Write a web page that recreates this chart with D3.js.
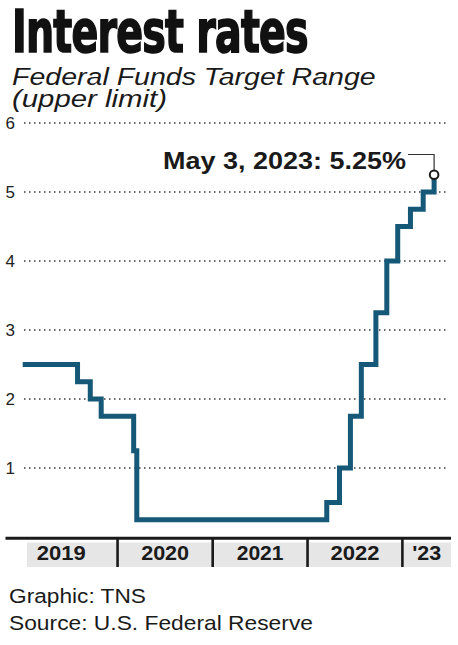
<!DOCTYPE html>
<html>
<head>
<meta charset="utf-8">
<script src="https://cdn.jsdelivr.net/npm/d3@7"></script>
<style>
  html, body { margin: 0; padding: 0; background: #fff; }
  svg { display: block; }
  text { font-family: "Liberation Sans", Arial, Helvetica, sans-serif; fill: #1a1a1a; }
</style>
</head>
<body>
<script>
// ---- data ----
const changeDates = ["2019-01-01","2019-07-31","2019-09-18","2019-10-30","2020-03-03","2020-03-15",
  "2022-03-16","2022-05-04","2022-06-15","2022-07-27","2022-09-21","2022-11-02","2022-12-14",
  "2023-02-01","2023-03-22","2023-05-03"];
const upperRates = [2.5, 2.25, 2.0, 1.75, 1.25, 0.25, 0.5, 1.0, 1.75, 2.5, 3.25, 4.0, 4.5, 4.75, 5.0, 5.25];
const yTicks = [1, 2, 3, 4, 5, 6];
const yearTickDates = ["2020-01-01","2021-01-01","2022-01-01","2023-01-01"];
const yearLabels = ["2019","2020","2021","2022","'23"];
const titleText = "Interest rates";
const subtitleLines = ["Federal Funds Target Range", "(upper limit)"];
const annotationText = "May 3, 2023: 5.25%";
const footerLines = ["Graphic: TNS", "Source: U.S. Federal Reserve"];

const W = 458, H = 645;
const parse = d3.timeParse("%Y-%m-%d");
const data = changeDates.map((d, i) => ({ date: parse(d), value: upperRates[i] }));

const svg = d3.select("body").append("svg").attr("width", W).attr("height", H);

const x = d3.scaleTime()
  .domain([parse("2019-01-01"), parse("2023-07-07")])
  .range([22.7, 451]);
const y = d3.scaleLinear().domain([0, 6]).range([537, 123]);

// helper to stretch text to a measured width
function fit(sel, tx, ty, width) {
  sel.attr("x", 0).attr("y", 0);
  const w = sel.node().getComputedTextLength();
  const s = width / w;
  sel.attr("transform", `translate(${tx},${ty}) scale(${s},1)`);
  return sel;
}

// ---- title ----
const title = svg.append("text")
  .text(titleText)
  .style("font-family", "'Liberation Sans Narrow', 'DejaVu Sans Condensed', 'Liberation Sans', sans-serif")
  .style("font-weight", "bold")
  .style("font-size", "58px")
  .style("fill", "#111")
  .style("stroke", "#111")
  .style("stroke-width", "1.6px")
  .style("letter-spacing", "-1px");
fit(title, 12, 52, 296);

subtitleLines.forEach((t, i) => {
  const s = svg.append("text").text(t)
    .style("font-style", "italic")
    .style("font-size", "23.5px")
    .style("fill", "#1a1a1a");
  fit(s, 12, 85 + i * 22, i === 0 ? 364 : 155);
});

// ---- grid ----
const grid = svg.append("g");
grid.selectAll("line").data(yTicks).join("line")
  .attr("x1", 24).attr("x2", 447)
  .attr("y1", d => y(d)).attr("y2", d => y(d))
  .attr("stroke", "#3a3a3a")
  .attr("stroke-width", 1.5)
  .attr("stroke-dasharray", "1.5,3.5");

svg.append("g").selectAll("text").data(yTicks).join("text")
  .attr("x", 15).attr("y", d => y(d))
  .attr("dy", "0.36em")
  .attr("text-anchor", "end")
  .style("font-size", "17px")
  .style("fill", "#222")
  .text(d => d);

// ---- x axis ----
const tickXs = yearTickDates.map(d => x(parse(d)));
svg.append("rect")
  .attr("x", 27).attr("y", 542.5)
  .attr("width", 451 - 27).attr("height", 24.5)
  .attr("fill", "#e6e6e7");
svg.append("line")
  .attr("x1", 5.5).attr("x2", 451)
  .attr("y1", 538.3).attr("y2", 538.3)
  .attr("stroke", "#1a1a1a").attr("stroke-width", 3);
svg.append("g").selectAll("line").data(tickXs).join("line")
  .attr("x1", d => d).attr("x2", d => d)
  .attr("y1", 537).attr("y2", 567)
  .attr("stroke", "#1a1a1a").attr("stroke-width", 2.6);

const bounds = [5, ...tickXs, 451];
const labelWidths = [49, 48, 47, 49, 29];
yearLabels.forEach((lab, i) => {
  const cx = (bounds[i] + bounds[i + 1]) / 2;
  const t = svg.append("text").text(lab)
    .attr("text-anchor", "middle")
    .style("font-weight", "bold")
    .style("font-size", "20.5px")
    .style("fill", "#1a1a1a");
  fit(t, cx, 560, labelWidths[i]);
});

// ---- line ----
const line = d3.line()
  .x(d => x(d.date))
  .y(d => y(d.value))
  .curve(d3.curveStepAfter);
svg.append("path")
  .datum(data)
  .attr("d", line)
  .attr("fill", "none")
  .attr("stroke", "#165877")
  .attr("stroke-width", 5)
  .attr("stroke-linejoin", "miter")
  .attr("stroke-linecap", "butt");

// ---- annotation ----
const last = data[data.length - 1];
const lx = x(last.date), ly = y(last.value);
svg.append("path")
  .attr("d", `M408,154.5H${lx}V${ly - 4.5}`)
  .attr("fill", "none")
  .attr("stroke", "#333")
  .attr("stroke-width", 1.2);
svg.append("circle")
  .attr("cx", lx).attr("cy", ly).attr("r", 4.3)
  .attr("fill", "#fff")
  .attr("stroke", "#1a1a1a")
  .attr("stroke-width", 2);
const ann = svg.append("text").text(annotationText)
  .attr("text-anchor", "end")
  .style("font-weight", "bold")
  .style("font-size", "23px")
  .style("fill", "#1a1a1a");
fit(ann, 406, 169, 243);

// ---- footer ----
footerLines.forEach((t, i) => {
  const f = svg.append("text").text(t)
    .style("font-size", "20px")
    .style("fill", "#1a1a1a");
  fit(f, 9, 603 + i * 27, i === 0 ? 137 : 304);
});
</script>
</body>
</html>
